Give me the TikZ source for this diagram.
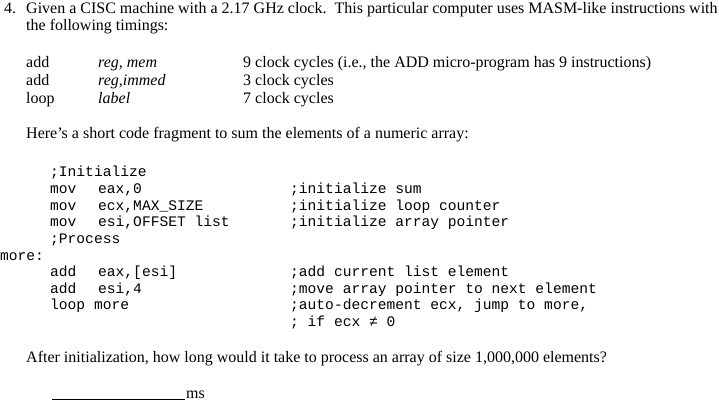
\documentclass[tikz,border=0pt]{standalone}
\usepackage{fontspec}
\setmainfont{Liberation Serif}
\setmonofont{Liberation Mono}
\begin{document}
\begin{tikzpicture}[x=1pt,y=-1pt,
  t/.style={anchor=base west,inner sep=0pt,font=\fontsize{16}{18}\selectfont},
  c/.style={anchor=base west,inner sep=0pt,font=\ttfamily\fontsize{14.6}{16}\selectfont}]
\useasboundingbox (0,0) rectangle (719,417);
\node[t] (n4) at (4,14) {4.};
\node[t] (l1) at (26,14) {Given a CISC machine with a 2.17 GHz clock.\ \ This particular computer uses MASM-like instructions with};
\node[t] (l2) at (26,31) {the following timings:};
\node[t] (a1) at (26,68) {add};
\node[t] (a2) at (26,85) {add};
\node[t] (a3) at (26,103) {loop};
\node[t] (o1) at (98,68) {\itshape reg, mem};
\node[t] (o2) at (98,85) {\itshape reg,immed};
\node[t] (o3) at (98,103) {\itshape label};
\node[t] (k1) at (243,68) {9 clock cycles (i.e., the ADD micro-program has 9 instructions)};
\node[t] (k2) at (243,85) {3 clock cycles};
\node[t] (k3) at (243,103) {7 clock cycles};
\node[t] (h) at (26,138) {Here’s a short code fragment to sum the elements of a numeric array:};
\node[c] (c0) at (50,176) {;Initialize};
\node[c] (c1) at (50,193) {mov};
\node[c] (c2) at (50,210) {mov};
\node[c] (c3) at (50,226) {mov};
\node[c] (d1) at (98,193) {eax,0};
\node[c] (d2) at (98,210) {ecx,MAX\_SIZE};
\node[c] (d3) at (98,226) {esi,OFFSET list};
\node[c] (e1) at (290,193) {;initialize sum};
\node[c] (e2) at (290,210) {;initialize loop counter};
\node[c] (e3) at (290,226) {;initialize array pointer};
\node[c] (p) at (50,243) {;Process};
\node[c] (m) at (0,260) {more:};
\node[c] (f1) at (50,276) {add};
\node[c] (f2) at (50,293) {add};
\node[c] (f3) at (50,309) {loop more};
\node[c] (g1) at (98,276) {eax,[esi]};
\node[c] (g2) at (98,293) {esi,4};
\node[c] (h1) at (290,276) {;add current list element};
\node[c] (h2) at (290,293) {;move array pointer to next element};
\node[c] (h3) at (290,309) {;auto-decrement ecx, jump to more,};
\node[c] (h4) at (290,326) {; if ecx ≠ 0};
\node[t] (q) at (26,362) {After initialization, how long would it take to process an array of size 1,000,000 elements?};
\coordinate (u1) at (52,399);
\coordinate (u2) at (185,399);
\draw[line width=0.8pt] (u1) -- (u2);
\node[t] (ms) at (186,398) {ms};
\end{tikzpicture}
\end{document}
